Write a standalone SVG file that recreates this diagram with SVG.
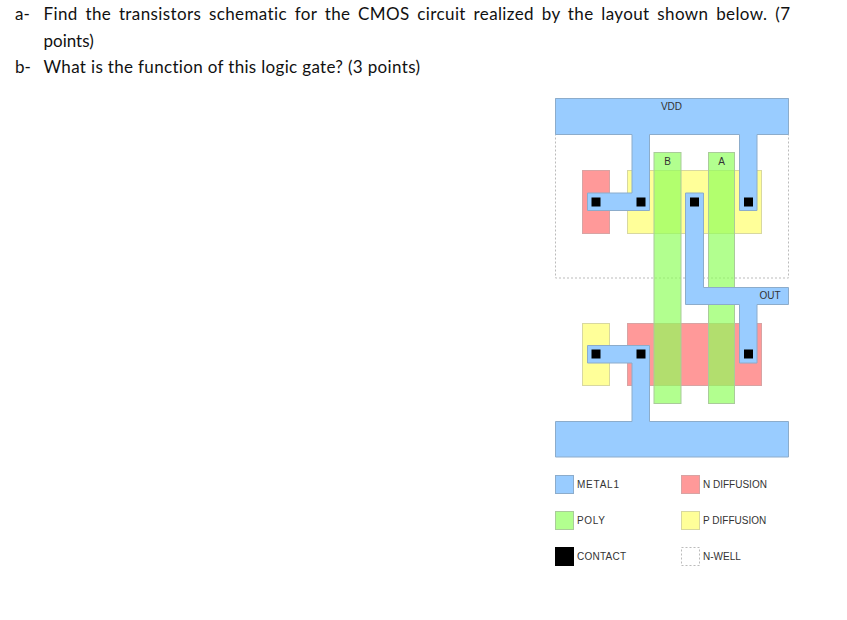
<svg xmlns="http://www.w3.org/2000/svg" width="847" height="620" viewBox="0 0 847 620">
<style>
text{font-family:"Liberation Sans",Arial,sans-serif;fill:#333}
.q{font-family:"Lato","Open Sans",sans-serif;font-size:17px;fill:#111;font-variant-ligatures:none}
.l{font-size:10px}
.lab{font-size:10px;text-anchor:middle}
.m{fill:#99ccff;stroke:#8caccb;stroke-width:1}
.p{fill:#8eff5a;fill-opacity:.68;stroke:#aacb9a;stroke-width:1}
.n{fill:#ff9999;stroke:#d8a3a3;stroke-width:1}
.y{fill:#ffff99;stroke:#d8d8a0;stroke-width:1}
.c{fill:#000}
.w{fill:none;stroke:#bbb;stroke-width:1;stroke-dasharray:2 2}
</style>
<rect width="847" height="620" fill="#fff"/>
<g id="question">
<text class="q" x="15" y="20">a-</text>
<text class="q" x="43.500" y="20" word-spacing="3" textLength="746.500">Find the transistors schematic for the CMOS circuit realized by the layout shown below. (7</text>
<text class="q" x="43.500" y="47">points)</text>
<text class="q" x="15" y="73">b-</text>
<text class="q" x="43.500" y="73" textLength="376.500">What is the function of this logic gate? (3 points)</text>
</g>
<g id="layout">
<rect id="nwell" class="w" x="555.500" y="98.500" width="233" height="179.500"/>
<rect id="ndiff-top" class="n" x="582.500" y="170.500" width="27" height="63"/>
<rect id="pdiff-top" class="y" x="627.500" y="170.500" width="134" height="63"/>
<rect id="pdiff-bottom" class="y" x="582.500" y="323.500" width="27" height="62"/>
<rect id="ndiff-bottom" class="n" x="627.500" y="323.500" width="134" height="62"/>
<g id="poly-b"><rect class="p" x="654" y="152.500" width="27" height="251"/><text class="lab" x="667.500" y="165">B</text></g>
<g id="poly-a"><rect class="p" x="708.500" y="152.500" width="26" height="251"/><text class="lab" x="721.500" y="165">A</text></g>
<g id="vdd"><path class="m" d="M555.500 98.500H788.500V134.500H757V210.500H739.500V134.500H649.500V210.500H587.500V193H632V134.500H555.500Z"/><text class="lab" x="671.500" y="110">VDD</text></g>
<g id="out"><path class="m" d="M685.500 193H703.500V287.500H788.500V304.500H757V363H739.500V304.500H685.500Z"/><text class="lab" x="770" y="299">OUT</text></g>
<g id="gnd"><path class="m" d="M555.500 421.500H632V363H587.500V345.500H649.500V421.500H788.500V457H555.500Z"/></g>
<g id="contacts">
<rect class="c" x="591.500" y="197.500" width="9" height="9"/>
<rect class="c" x="636.500" y="197.500" width="9" height="9"/>
<rect class="c" x="690" y="197.500" width="9" height="9"/>
<rect class="c" x="744" y="197.500" width="9" height="9"/>
<rect class="c" x="591.500" y="349.500" width="9" height="9"/>
<rect class="c" x="636.500" y="349.500" width="9" height="9"/>
<rect class="c" x="744" y="349.500" width="9" height="9"/>
</g>
</g>
<g id="legend">
<g id="legend-metal"><rect class="m" x="555.500" y="475.500" width="18" height="18"/><text class="l" x="577" y="488" textLength="42">METAL1</text></g>
<g id="legend-poly"><rect class="p" x="555.500" y="511.500" width="18" height="18"/><text class="l" x="577" y="524" textLength="28">POLY</text></g>
<g id="legend-contact"><rect class="c" x="555" y="547" width="19" height="19"/><text class="l" x="577" y="560" textLength="49">CONTACT</text></g>
<g id="legend-ndiff"><rect class="n" x="681.500" y="475.500" width="18" height="18"/><text class="l" x="703" y="488">N DIFFUSION</text></g>
<g id="legend-pdiff"><rect class="y" x="681.500" y="511.500" width="18" height="18"/><text class="l" x="703" y="524">P DIFFUSION</text></g>
<g id="legend-nwell"><rect class="w" x="681.500" y="547.500" width="18" height="18"/><text class="l" x="703" y="560">N-WELL</text></g>
</g>
</svg>
